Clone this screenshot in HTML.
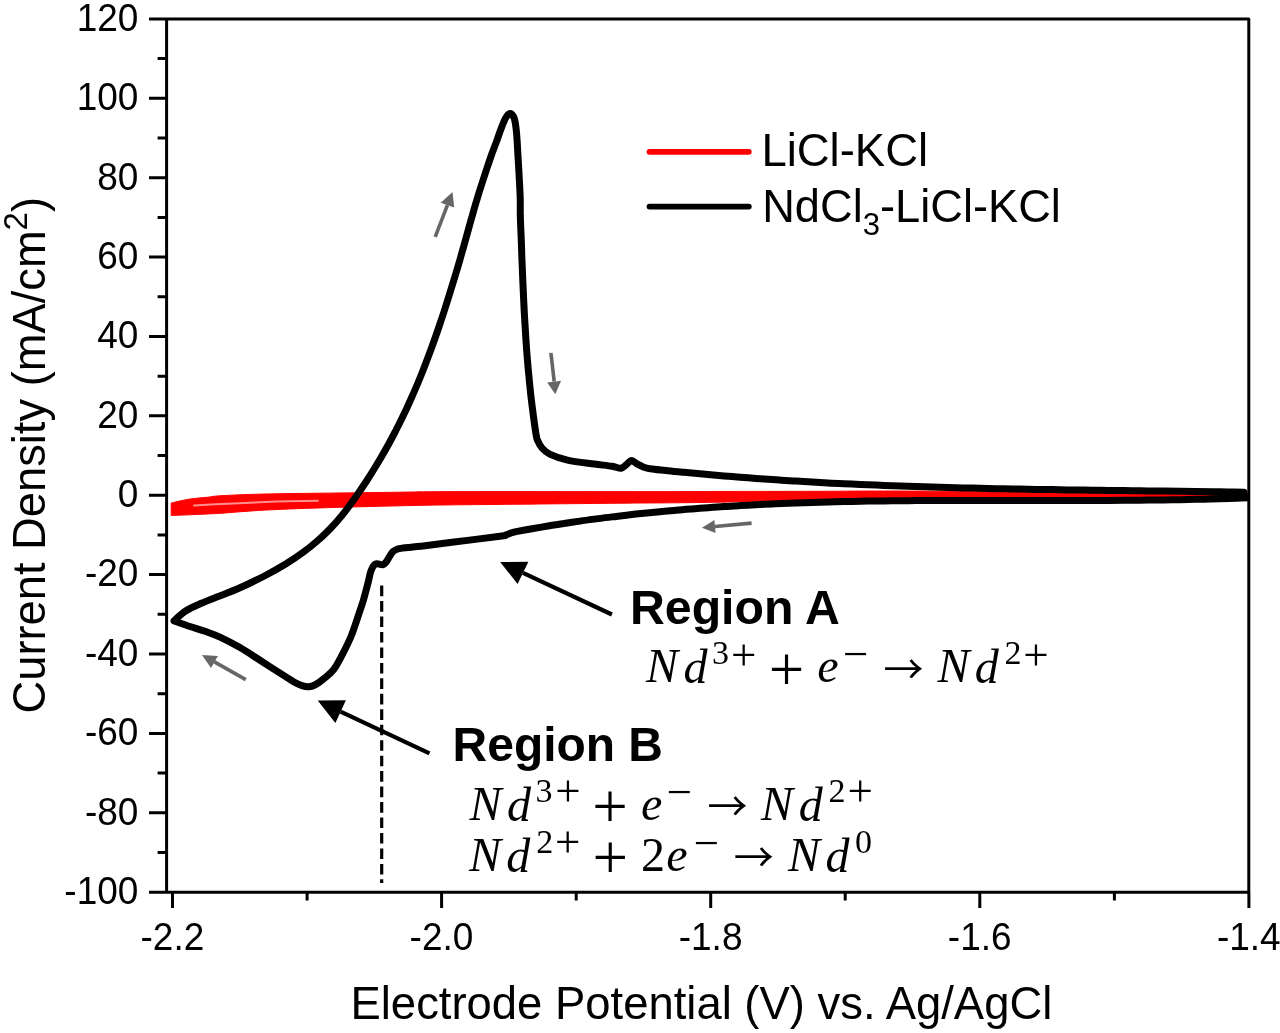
<!DOCTYPE html>
<html><head><meta charset="utf-8"><style>
html,body{margin:0;padding:0;background:#fff;}
svg{display:block;}
text{font-family:"Liberation Sans",Arial,sans-serif;fill:#000;}
.tick{font-size:37px;}
.title{font-size:45.5px;}
.leg{font-size:45px;}
.reg{font-size:47px;font-weight:bold;}
</style></head><body>
<svg width="1280" height="1033" viewBox="0 0 1280 1033">
<rect width="1280" height="1033" fill="#fff"/>
<defs><clipPath id="pc"><rect x="0" y="0" width="1248.8" height="1033"/></clipPath></defs>
<g clip-path="url(#pc)">
<path id="red" d="M171.2,503.0 C174.3,502.3 184.0,499.9 190.0,499.0 C196.0,498.1 202.0,497.8 207.0,497.3 C212.0,496.8 210.3,496.4 220.0,495.8 C229.7,495.2 248.3,494.4 265.0,494.0 C281.7,493.6 297.5,493.5 320.0,493.2 C342.5,492.9 376.7,492.5 400.0,492.2 C423.3,491.9 423.3,491.7 460.0,491.6 C496.7,491.5 580.0,491.6 620.0,491.6 C660.0,491.6 666.7,491.6 700.0,491.5 C733.3,491.4 790.0,491.4 820.0,491.3 C850.0,491.2 850.0,491.0 880.0,491.0 C910.0,491.0 938.3,491.2 1000.0,491.5 C1061.7,491.8 1208.3,492.8 1250.0,493.0 L1250.0,497.0 C1208.3,497.2 1061.7,497.6 1000.0,498.0 C938.3,498.4 910.0,499.2 880.0,499.5 C850.0,499.8 850.0,499.5 820.0,500.0 C790.0,500.5 733.3,502.0 700.0,502.5 C666.7,503.0 660.0,502.8 620.0,503.2 C580.0,503.6 496.7,504.4 460.0,504.8 C423.3,505.2 423.3,505.3 400.0,505.8 C376.7,506.3 342.5,507.2 320.0,507.9 C297.5,508.6 281.7,509.2 265.0,510.1 C248.3,511.0 229.7,512.6 220.0,513.3 C210.3,513.9 212.0,513.8 207.0,514.0 C202.0,514.2 196.0,514.5 190.0,514.8 C184.0,515.0 174.3,515.4 171.2,515.5 Z" fill="#ff0000" stroke="#ff0000" stroke-width="1" stroke-linejoin="round"/>
<path d="M194,505.4 C220,504.2 250,502.6 265,502 S300,501 318,500.8" fill="none" stroke="#ff8f8f" stroke-width="2" stroke-linecap="round"/>
<path id="blk" d="M1252.0,497.7 C1249.3,497.8 1241.3,498.1 1236.0,498.3 C1230.7,498.4 1225.3,498.6 1220.0,498.8 C1214.7,498.9 1209.3,499.0 1204.0,499.2 C1198.7,499.3 1193.3,499.4 1188.0,499.5 C1182.7,499.6 1177.3,499.7 1172.0,499.8 C1166.7,499.9 1161.3,499.9 1156.0,500.0 C1150.7,500.1 1145.3,500.1 1140.0,500.2 C1134.7,500.2 1129.3,500.2 1124.0,500.3 C1118.7,500.3 1113.3,500.3 1108.0,500.4 C1102.7,500.4 1097.3,500.4 1092.0,500.4 C1086.7,500.4 1081.3,500.4 1076.0,500.4 C1070.7,500.5 1065.3,500.5 1060.0,500.5 C1054.7,500.5 1049.3,500.4 1044.0,500.4 C1038.7,500.4 1033.3,500.4 1028.0,500.4 C1022.7,500.4 1017.3,500.4 1012.0,500.4 C1006.7,500.4 1001.3,500.4 996.0,500.4 C990.7,500.4 985.3,500.4 980.0,500.4 C974.7,500.4 969.3,500.4 964.0,500.4 C958.7,500.4 953.3,500.4 948.0,500.4 C942.7,500.5 937.3,500.5 932.0,500.5 C926.7,500.5 921.3,500.6 916.0,500.6 C910.7,500.6 905.3,500.7 900.0,500.7 C894.7,500.8 889.3,500.8 884.0,500.9 C878.7,501.0 873.3,501.1 868.0,501.1 C862.7,501.2 857.3,501.3 852.0,501.4 C846.7,501.5 841.3,501.7 836.0,501.8 C830.7,501.9 825.3,502.1 820.0,502.2 C814.7,502.4 809.3,502.5 804.0,502.7 C798.7,502.9 793.3,503.1 788.0,503.3 C782.7,503.5 777.3,503.7 772.0,504.0 C766.7,504.2 761.3,504.5 756.0,504.7 C750.7,505.0 745.3,505.3 740.0,505.6 C734.7,505.9 729.3,506.2 724.0,506.6 C718.7,506.9 713.3,507.3 708.0,507.7 C702.7,508.0 697.3,508.4 692.0,508.9 C686.7,509.3 681.3,509.7 676.0,510.2 C670.7,510.7 665.3,511.1 660.0,511.7 C654.7,512.2 649.3,512.7 644.0,513.2 C638.7,513.8 633.3,514.4 628.0,515.0 C622.7,515.6 617.3,516.2 612.0,516.9 C606.7,517.5 601.3,518.2 596.0,518.9 C590.7,519.6 585.3,520.3 580.0,521.1 C574.7,521.9 569.3,522.7 564.0,523.5 C558.7,524.3 553.3,525.1 548.0,526.0 C542.7,526.9 537.3,527.8 532.0,528.7 C526.7,529.7 519.3,531.0 516.0,531.6 C512.7,532.3 513.7,532.1 512.0,532.6 C510.3,533.1 508.0,534.2 506.0,534.8 C504.0,535.4 509.3,535.0 500.0,536.3 C490.7,537.6 462.5,540.9 450.0,542.5 C437.5,544.1 431.2,545.0 425.0,545.8 C418.8,546.5 416.7,546.6 413.0,547.0 C409.3,547.4 405.7,547.6 403.0,548.0 C400.3,548.4 398.7,548.6 397.0,549.2 C395.3,549.8 394.2,550.3 393.0,551.5 C391.8,552.7 390.7,554.6 389.6,556.4 C388.5,558.1 387.3,560.6 386.2,562.0 C385.1,563.4 383.9,564.3 382.8,564.7 C381.7,565.1 380.5,564.4 379.4,564.2 C378.3,564.1 377.0,563.5 376.0,563.8 C375.0,564.1 374.2,564.8 373.3,566.2 C372.4,567.6 371.5,569.2 370.6,572.0 C369.7,574.8 369.2,578.4 368.0,583.0 C366.8,587.6 365.2,594.0 363.6,599.5 C362.0,605.0 360.3,609.7 358.3,615.7 C356.3,621.7 353.9,629.3 351.4,635.5 C348.9,641.7 346.1,647.3 343.2,652.9 C340.3,658.5 337.1,665.0 334.0,669.2 C330.9,673.4 327.7,675.5 324.7,678.0 C321.7,680.5 318.6,682.9 316.0,684.4 C313.4,685.9 311.5,686.5 309.2,686.7 C306.9,686.9 304.5,686.5 302.0,685.7 C299.5,684.9 297.0,683.7 294.0,682.0 C291.0,680.3 289.7,679.2 284.0,675.6 C278.3,672.0 267.3,665.0 260.0,660.3 C252.7,655.6 246.7,651.5 240.0,647.6 C233.3,643.8 225.8,639.9 220.0,637.2 C214.2,634.5 210.0,633.1 205.0,631.3 C200.0,629.5 195.2,628.2 190.0,626.5 C184.8,624.8 176.7,621.8 174.0,620.9 L174.0,620.9 C175.9,619.2 181.0,613.9 185.6,611.0 C190.2,608.1 196.1,605.6 201.3,603.3 C206.5,601.0 210.5,599.5 216.9,597.0 C223.3,594.5 231.5,591.5 239.4,588.0 C247.3,584.5 256.7,580.0 264.4,576.0 C272.1,572.0 279.2,568.0 285.7,564.0 C292.2,560.0 298.1,556.0 303.5,552.0 C309.0,548.0 313.9,544.0 318.4,540.0 C323.0,536.0 327.0,532.0 330.9,528.0 C334.7,524.0 338.2,520.0 341.5,516.0 C344.8,512.0 347.8,508.0 350.7,504.0 C353.7,500.0 356.4,496.0 359.2,492.0 C361.9,488.0 364.6,484.0 367.2,480.0 C369.8,476.0 372.3,472.0 374.7,468.0 C377.2,464.0 379.6,460.0 381.9,456.0 C384.2,452.0 386.5,448.0 388.7,444.0 C390.8,440.0 393.0,436.0 395.1,432.0 C397.1,428.0 399.1,424.0 401.1,420.0 C403.1,416.0 405.0,412.0 406.9,408.0 C408.7,404.0 410.5,400.0 412.3,396.0 C414.1,392.0 415.8,388.0 417.5,384.0 C419.1,380.0 420.8,376.0 422.4,372.0 C424.0,368.0 425.5,364.0 427.0,360.0 C428.6,356.0 430.0,352.0 431.5,348.0 C433.0,344.0 434.4,340.0 435.8,336.0 C437.2,332.0 438.5,328.0 439.9,324.0 C441.2,320.0 442.6,316.0 443.9,312.0 C445.2,308.0 446.4,304.0 447.7,300.0 C449.0,296.0 450.2,292.0 451.4,288.0 C452.7,284.0 453.9,280.0 455.1,276.0 C456.3,272.0 457.6,268.0 458.7,264.0 C459.9,260.0 461.0,256.0 462.1,252.0 C463.3,248.0 464.4,244.0 465.5,240.0 C466.6,236.0 467.7,232.0 468.8,228.0 C469.9,224.0 471.0,220.0 472.2,216.0 C473.3,212.0 474.4,208.0 475.6,204.0 C476.8,200.0 478.0,196.0 479.2,192.0 C480.5,188.0 481.8,184.0 483.1,180.0 C484.4,176.0 485.7,172.0 487.0,168.0 C488.4,164.0 489.6,160.4 491.1,156.0 C492.7,151.6 494.8,146.2 496.5,141.6 C498.2,136.9 499.8,131.9 501.3,128.1 C502.8,124.3 504.0,121.0 505.3,118.6 C506.6,116.2 508.0,113.9 509.4,113.6 C510.8,113.2 512.5,114.7 513.5,116.5 C514.5,118.3 514.9,120.5 515.5,124.2 C516.1,127.9 516.6,133.0 517.0,138.7 C517.4,144.3 517.7,151.6 518.1,158.1 C518.5,164.6 518.9,170.8 519.2,177.4 C519.6,184.1 520.0,191.6 520.2,198.0 C520.4,204.4 520.2,209.7 520.3,216.0 C520.5,222.3 520.8,229.3 521.1,236.0 C521.4,242.7 521.6,249.3 521.8,256.0 C522.1,262.7 522.4,269.3 522.6,276.0 C522.9,282.7 523.2,289.3 523.5,296.0 C523.8,302.7 524.1,309.3 524.5,316.0 C524.9,322.7 525.3,329.3 525.7,336.0 C526.1,342.7 526.6,349.3 527.1,356.0 C527.7,362.7 528.2,369.3 528.9,376.0 C529.5,382.7 530.2,389.3 530.9,396.0 C531.7,402.7 532.5,409.3 533.4,416.0 C534.3,422.7 535.6,431.9 536.3,436.0 C537.1,440.1 536.9,438.8 537.8,440.8 C538.7,442.8 540.0,445.8 542.0,448.0 C544.0,450.2 545.5,452.1 549.7,454.1 C554.0,456.1 560.1,458.5 567.5,460.1 C574.9,461.8 586.8,463.0 594.2,464.0 C601.6,465.0 607.5,465.6 612.0,466.3 C616.5,467.0 618.6,468.5 621.0,468.2 C623.4,467.9 624.8,465.8 626.5,464.5 C628.2,463.2 629.6,460.6 631.3,460.5 C633.0,460.4 634.4,462.4 636.6,463.6 C638.8,464.8 642.1,466.6 644.7,467.5 C647.3,468.4 648.1,468.5 652.0,469.0 C655.9,469.6 662.7,470.2 668.0,470.7 C673.3,471.3 678.7,471.8 684.0,472.3 C689.3,472.9 694.7,473.4 700.0,473.8 C705.3,474.3 710.7,474.8 716.0,475.3 C721.3,475.7 726.7,476.2 732.0,476.6 C737.3,477.0 742.7,477.4 748.0,477.8 C753.3,478.2 758.7,478.6 764.0,479.0 C769.3,479.4 774.7,479.7 780.0,480.1 C785.3,480.4 790.7,480.7 796.0,481.1 C801.3,481.4 806.7,481.7 812.0,482.0 C817.3,482.3 822.7,482.6 828.0,482.9 C833.3,483.1 838.7,483.4 844.0,483.7 C849.3,483.9 854.7,484.2 860.0,484.4 C865.3,484.6 870.7,484.9 876.0,485.1 C881.3,485.3 886.7,485.5 892.0,485.7 C897.3,485.9 902.7,486.1 908.0,486.3 C913.3,486.5 918.7,486.6 924.0,486.8 C929.3,487.0 934.7,487.1 940.0,487.3 C945.3,487.4 950.7,487.6 956.0,487.7 C961.3,487.9 966.7,488.0 972.0,488.1 C977.3,488.2 982.7,488.4 988.0,488.5 C993.3,488.6 998.7,488.7 1004.0,488.8 C1009.3,488.9 1014.7,489.0 1020.0,489.1 C1025.3,489.2 1030.7,489.3 1036.0,489.4 C1041.3,489.5 1046.7,489.6 1052.0,489.6 C1057.3,489.7 1062.7,489.8 1068.0,489.9 C1073.3,489.9 1078.7,490.0 1084.0,490.1 C1089.3,490.2 1094.7,490.2 1100.0,490.3 C1105.3,490.4 1110.7,490.4 1116.0,490.5 C1121.3,490.6 1126.7,490.6 1132.0,490.7 C1137.3,490.8 1142.7,490.8 1148.0,490.9 C1153.3,490.9 1158.7,491.0 1164.0,491.1 C1169.3,491.1 1174.7,491.2 1180.0,491.3 C1185.3,491.3 1190.7,491.4 1196.0,491.5 C1201.3,491.5 1206.7,491.6 1212.0,491.7 C1217.3,491.8 1222.7,491.8 1228.0,491.9 C1233.3,492.0 1241.3,492.1 1244.0,492.2" fill="none" stroke="#000" stroke-width="7" stroke-linejoin="round" stroke-linecap="round"/>
</g>
<line x1="381.7" y1="585.6" x2="381.7" y2="883" stroke="#000" stroke-width="3.2" stroke-dasharray="10.6 4.86"/>
<line x1="435.2" y1="236.9" x2="447.4" y2="205.1" stroke="#666666" stroke-width="3.6"/><polygon points="452.5,191.9 440.7,202.7 454.2,207.4" fill="#666666"/><line x1="550.9" y1="352.9" x2="554.2" y2="381.5" stroke="#666666" stroke-width="3.6"/><polygon points="555.3,394.2 547.2,382.4 561.1,380.7" fill="#666666"/><line x1="751.6" y1="523.1" x2="715.0" y2="526.5" stroke="#666666" stroke-width="3.6"/><polygon points="701.9,527.8 714.4,520.0 715.6,533.1" fill="#666666"/><line x1="245.8" y1="679.6" x2="214.4" y2="661.9" stroke="#666666" stroke-width="3.6"/><polygon points="202.0,655.0 217.9,655.9 211.0,667.9" fill="#666666"/><line x1="611.9" y1="614.5" x2="523.0" y2="572.9" stroke="#000" stroke-width="4.2"/><polygon points="500.2,562.0 528.4,561.7 517.6,584.0" fill="#000"/><line x1="429.5" y1="753.3" x2="340.6" y2="711.6" stroke="#000" stroke-width="4.2"/><polygon points="317.7,700.5 345.9,700.3 335.4,722.9" fill="#000"/>
<path d="M166.6,18.9 H1248.8 V892.2 H149 M166.6,18.9 V892.2 M149,18.9 H166.6 M149,98.3 H166.6 M149,177.7 H166.6 M149,257.1 H166.6 M149,336.5 H166.6 M149,415.8 H166.6 M149,495.2 H166.6 M149,574.6 H166.6 M149,654.0 H166.6 M149,733.4 H166.6 M149,812.8 H166.6 M149,892.2 H166.6 M157.6,58.6 H166.6 M157.6,138.0 H166.6 M157.6,217.4 H166.6 M157.6,296.8 H166.6 M157.6,376.2 H166.6 M157.6,455.5 H166.6 M157.6,534.9 H166.6 M157.6,614.3 H166.6 M157.6,693.7 H166.6 M157.6,773.1 H166.6 M157.6,852.5 H166.6 M172.5,892.2 V908 M441.6,892.2 V908 M710.7,892.2 V908 M979.8,892.2 V908 M1248.9,892.2 V908 M307.1,892.2 V900.5 M576.2,892.2 V900.5 M845.2,892.2 V900.5 M1114.4,892.2 V900.5" fill="none" stroke="#000" stroke-width="3" stroke-linejoin="round"/>
<line x1="649.5" y1="151.8" x2="748.8" y2="151.8" stroke="#ff0000" stroke-width="5.8" stroke-linecap="round"/>
<line x1="649.5" y1="206.6" x2="748.8" y2="206.6" stroke="#000" stroke-width="5.8" stroke-linecap="round"/>
<text id="yt0" class="tick" x="138.4" y="30.8" text-anchor="end" transform="matrix(1 0 0 1.030 0 -0.92)">120</text>
<text id="yt1" class="tick" x="138.4" y="110.2" text-anchor="end" transform="matrix(1 0 0 1.030 0 -3.31)">100</text>
<text id="yt2" class="tick" x="138.4" y="189.6" text-anchor="end" transform="matrix(1 0 0 1.030 0 -5.69)">80</text>
<text id="yt3" class="tick" x="138.4" y="269.0" text-anchor="end" transform="matrix(1 0 0 1.030 0 -8.07)">60</text>
<text id="yt4" class="tick" x="138.4" y="348.4" text-anchor="end" transform="matrix(1 0 0 1.030 0 -10.45)">40</text>
<text id="yt5" class="tick" x="138.4" y="427.7" text-anchor="end" transform="matrix(1 0 0 1.030 0 -12.83)">20</text>
<text id="yt6" class="tick" x="138.4" y="507.1" text-anchor="end" transform="matrix(1 0 0 1.030 0 -15.21)">0</text>
<text id="yt7" class="tick" x="138.4" y="586.5" text-anchor="end" transform="matrix(1 0 0 1.030 0 -17.60)">-20</text>
<text id="yt8" class="tick" x="138.4" y="665.9" text-anchor="end" transform="matrix(1 0 0 1.030 0 -19.98)">-40</text>
<text id="yt9" class="tick" x="138.4" y="745.3" text-anchor="end" transform="matrix(1 0 0 1.030 0 -22.36)">-60</text>
<text id="yt10" class="tick" x="138.4" y="824.7" text-anchor="end" transform="matrix(1 0 0 1.030 0 -24.74)">-80</text>
<text id="yt11" class="tick" x="138.4" y="904.1" text-anchor="end" transform="matrix(1 0 0 1.030 0 -27.12)">-100</text>
<text id="xt0" class="tick" x="172.4" y="950.0" text-anchor="middle" transform="matrix(1 0 0 1.030 0 -28.50)">-2.2</text>
<text id="xt1" class="tick" x="441.5" y="950.0" text-anchor="middle" transform="matrix(1 0 0 1.030 0 -28.50)">-2.0</text>
<text id="xt2" class="tick" x="710.6" y="950.0" text-anchor="middle" transform="matrix(1 0 0 1.030 0 -28.50)">-1.8</text>
<text id="xt3" class="tick" x="979.7" y="950.0" text-anchor="middle" transform="matrix(1 0 0 1.030 0 -28.50)">-1.6</text>
<text id="xt4" class="tick" x="1248.8" y="950.0" text-anchor="middle" transform="matrix(1 0 0 1.030 0 -28.50)">-1.4</text>
<text id="xtitle" class="title" x="701.4" y="1019.2" text-anchor="middle" textLength="701.8" lengthAdjust="spacingAndGlyphs" transform="matrix(1 0 0 1.030 0 -30.58)">Electrode Potential (V) vs. Ag/AgCl</text>
<text id="leg1" class="leg" x="761.4" y="165.9" textLength="166.7" lengthAdjust="spacingAndGlyphs" transform="matrix(1 0 0 1.030 0 -4.98)">LiCl-KCl</text>
<text id="leg2" class="leg" x="762.2" y="221.7" textLength="298.7" lengthAdjust="spacingAndGlyphs" transform="matrix(1 0 0 1.030 0 -6.65)">NdCl<tspan font-size="31" dy="12.6">3</tspan><tspan dy="-12.6">-LiCl-KCl</tspan></text>
<text id="regA" class="reg" x="630.0" y="624.5" textLength="209.9" lengthAdjust="spacingAndGlyphs" transform="matrix(1 0 0 1.030 0 -18.74)">Region A</text>
<text id="regB" class="reg" x="452.6" y="761.5" textLength="210.4" lengthAdjust="spacingAndGlyphs" transform="matrix(1 0 0 1.030 0 -22.85)">Region B</text>
<text id="ea0" class="eq" x="645.9" y="682.3" style="font-family:'Liberation Serif',serif;font-style:italic;font-size:48px;">N</text>
<text id="ea1" class="eq" x="683.4" y="683.4" style="font-family:'Liberation Serif',serif;font-style:italic;font-size:48px;">d</text>
<text id="ea2" class="eq" x="711.9" y="663.8" style="font-family:'Liberation Serif',serif;font-size:34px;">3</text>
<text id="ea3" class="eq" x="731.1" y="669.5" style="font-family:'Liberation Serif',serif;font-size:45px;">+</text>
<text id="ea4" class="eq" x="768.7" y="690.6" style="font-family:'Liberation Serif',serif;font-size:63px;">+</text>
<text id="ea5" class="eq" x="817.3" y="682.4" style="font-family:'Liberation Serif',serif;font-style:italic;font-size:48px;">e</text>
<text id="ea6" class="eq" x="843.1" y="668.8" style="font-family:'Liberation Serif',serif;font-size:45px;">−</text>
<text id="ea7" class="eq" x="883.4" y="684.4" style="font-family:'Noto Sans CJK JP',sans-serif;font-size:40px;">→</text>
<text id="ea8" class="eq" x="937.5" y="682.1" style="font-family:'Liberation Serif',serif;font-style:italic;font-size:48px;">N</text>
<text id="ea9" class="eq" x="974.7" y="683.4" style="font-family:'Liberation Serif',serif;font-style:italic;font-size:48px;">d</text>
<text id="ea10" class="eq" x="1004.5" y="663.8" style="font-family:'Liberation Serif',serif;font-size:34px;">2</text>
<text id="ea11" class="eq" x="1023.3" y="669.5" style="font-family:'Liberation Serif',serif;font-size:45px;">+</text>
<text id="eb0" class="eq" x="469.5" y="820.1" style="font-family:'Liberation Serif',serif;font-style:italic;font-size:48px;">N</text>
<text id="eb1" class="eq" x="507.0" y="821.2" style="font-family:'Liberation Serif',serif;font-style:italic;font-size:48px;">d</text>
<text id="eb2" class="eq" x="535.5" y="801.6" style="font-family:'Liberation Serif',serif;font-size:34px;">3</text>
<text id="eb3" class="eq" x="555.2" y="806.2" style="font-family:'Liberation Serif',serif;font-size:45px;">+</text>
<text id="eb4" class="eq" x="592.2" y="828.4" style="font-family:'Liberation Serif',serif;font-size:63px;">+</text>
<text id="eb5" class="eq" x="640.9" y="820.2" style="font-family:'Liberation Serif',serif;font-style:italic;font-size:48px;">e</text>
<text id="eb6" class="eq" x="666.7" y="806.6" style="font-family:'Liberation Serif',serif;font-size:45px;">−</text>
<text id="eb7" class="eq" x="707.5" y="821.2" style="font-family:'Noto Sans CJK JP',sans-serif;font-size:40px;">→</text>
<text id="eb8" class="eq" x="761.1" y="819.9" style="font-family:'Liberation Serif',serif;font-style:italic;font-size:48px;">N</text>
<text id="eb9" class="eq" x="798.8" y="821.2" style="font-family:'Liberation Serif',serif;font-style:italic;font-size:48px;">d</text>
<text id="eb10" class="eq" x="828.5" y="801.6" style="font-family:'Liberation Serif',serif;font-size:34px;">2</text>
<text id="eb11" class="eq" x="847.4" y="806.2" style="font-family:'Liberation Serif',serif;font-size:45px;">+</text>
<text id="ec0" class="eq" x="469.1" y="871.1" style="font-family:'Liberation Serif',serif;font-style:italic;font-size:48px;">N</text>
<text id="ec1" class="eq" x="506.2" y="872.2" style="font-family:'Liberation Serif',serif;font-style:italic;font-size:48px;">d</text>
<text id="ec2" class="eq" x="536.3" y="852.6" style="font-family:'Liberation Serif',serif;font-size:34px;">2</text>
<text id="ec3" class="eq" x="555.0" y="857.2" style="font-family:'Liberation Serif',serif;font-size:45px;">+</text>
<text id="ec4" class="eq" x="592.5" y="879.4" style="font-family:'Liberation Serif',serif;font-size:63px;">+</text>
<text id="ec5" class="eq" x="640.9" y="870.9" style="font-family:'Liberation Serif',serif;font-size:48px;">2</text>
<text id="ec6" class="eq" x="666.2" y="871.2" style="font-family:'Liberation Serif',serif;font-style:italic;font-size:48px;">e</text>
<text id="ec7" class="eq" x="693.8" y="857.6" style="font-family:'Liberation Serif',serif;font-size:45px;">−</text>
<text id="ec8" class="eq" x="733.7" y="872.2" style="font-family:'Noto Sans CJK JP',sans-serif;font-size:40px;">→</text>
<text id="ec9" class="eq" x="787.9" y="871.1" style="font-family:'Liberation Serif',serif;font-style:italic;font-size:48px;">N</text>
<text id="ec10" class="eq" x="825.4" y="872.2" style="font-family:'Liberation Serif',serif;font-style:italic;font-size:48px;">d</text>
<text id="ec11" class="eq" x="855.0" y="852.6" style="font-family:'Liberation Serif',serif;font-size:34px;">0</text>
<text id="ytitle" class="title" style="font-size:45.3px" transform="translate(45.2,713.5) rotate(-90) scale(1,1.03)">Current Density (mA/cm<tspan font-size="33" dy="-17.5">2</tspan><tspan dy="17.5">)</tspan></text>
</svg>
</body></html>
